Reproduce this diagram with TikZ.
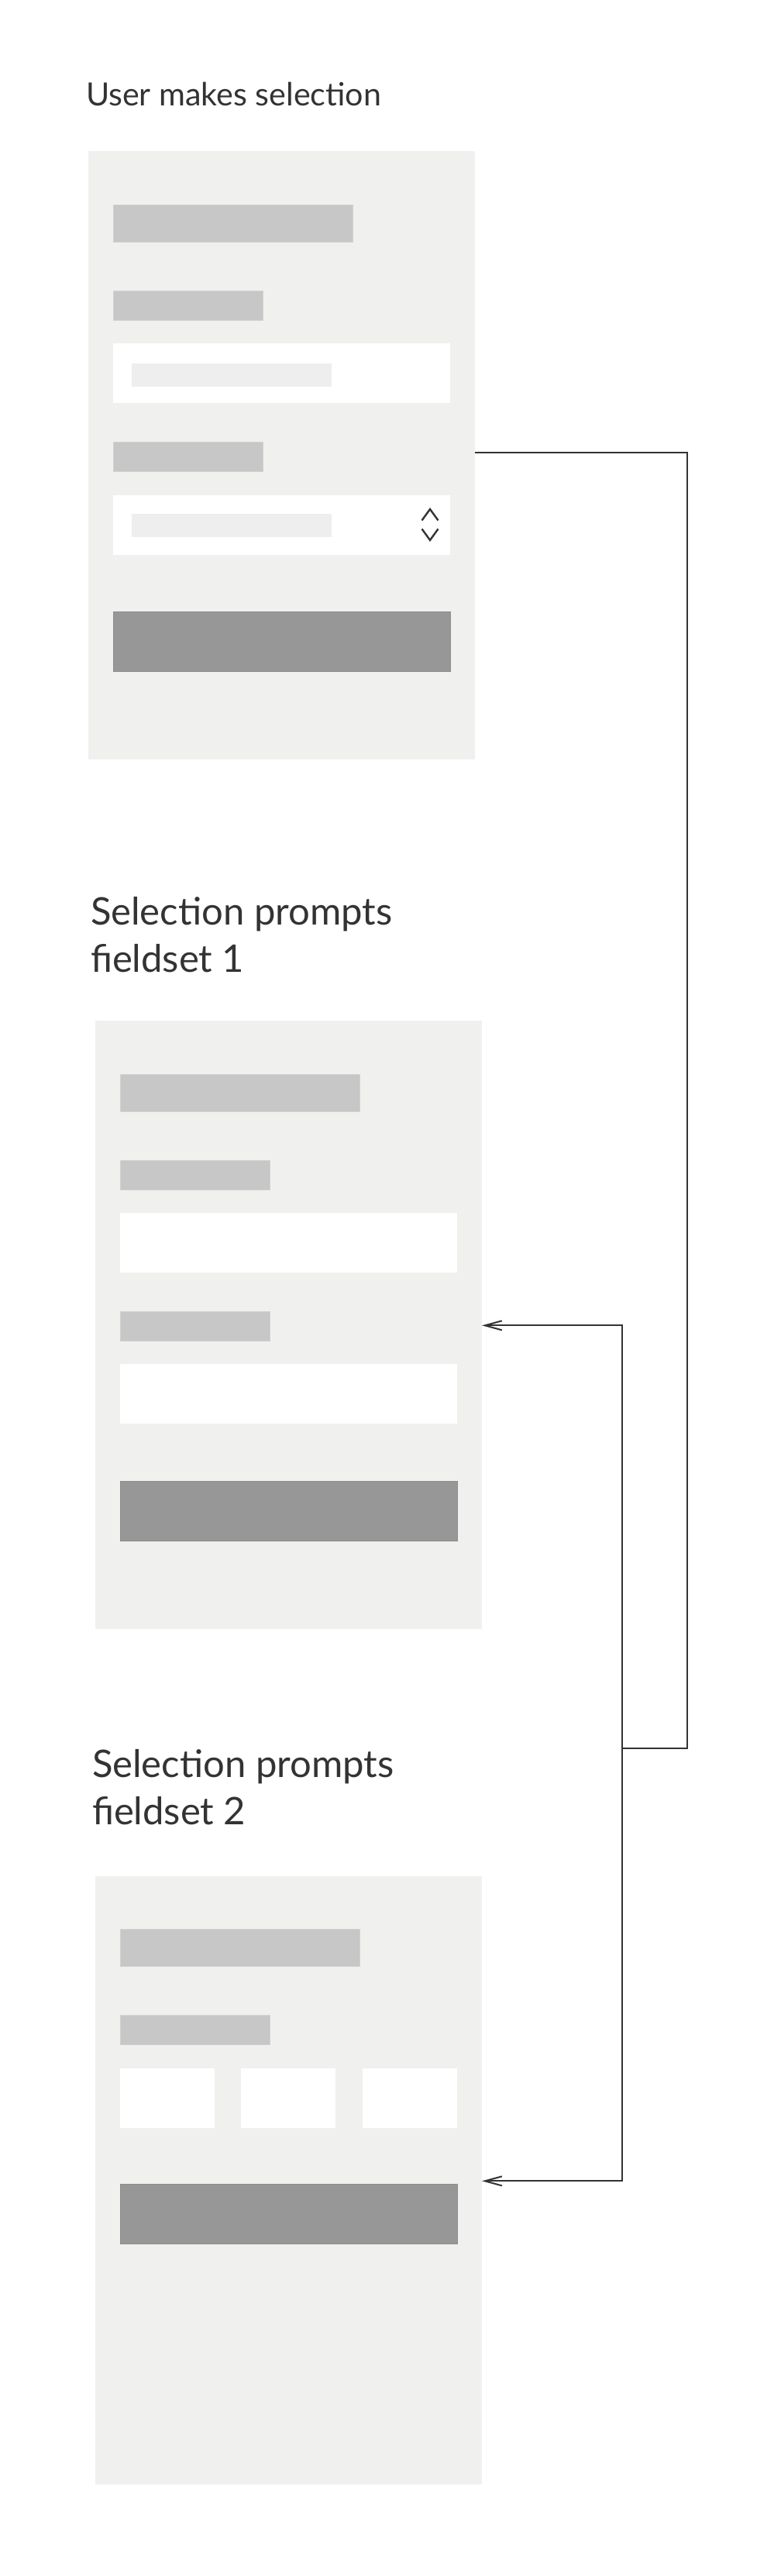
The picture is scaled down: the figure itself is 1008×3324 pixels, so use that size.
\documentclass[tikz,border=0pt]{standalone}
\usepackage{fontspec}
\setmainfont{Lato}
\usetikzlibrary{arrows.meta}
\definecolor{panelgray}{HTML}{F0F0EF}
\definecolor{bargray}{HTML}{C7C7C7}
\definecolor{barline}{HTML}{D2D2D2}
\definecolor{btngray}{HTML}{979797}
\definecolor{btnline}{HTML}{8E8E8E}
\definecolor{phgray}{HTML}{EEEEEE}
\definecolor{ink}{HTML}{333333}
\tikzset{
  box/.style={inner sep=0pt, outer sep=0pt, anchor=north west},
  panel/.style={box, fill=panelgray, minimum width=499pt, minimum height=785pt},
  bar/.style={box, fill=bargray, draw=barline, line width=0.8pt},
  titlebar/.style={bar, minimum width=309pt, minimum height=48pt},
  labelbar/.style={bar, minimum width=193pt, minimum height=38pt},
  inputbox/.style={box, fill=white, minimum width=435pt, minimum height=77pt},
  smallinput/.style={box, fill=white, minimum width=122pt, minimum height=77pt},
  placeholder/.style={box, fill=phgray, minimum width=258pt, minimum height=30pt},
  button/.style={box, fill=btngray, draw=btnline, line width=0.8pt, minimum width=435pt, minimum height=77pt},
  heading/.style={inner sep=0pt, outer sep=0pt, anchor=base west, text=ink, align=left},
  connector/.style={draw=ink, line width=2pt},
  arrowed/.style={connector, -{Straight Barb[length=22pt, width=12pt, line width=2pt]}},
  chevron/.style={draw=ink, line width=2.4pt}
}
\begin{document}
\begin{tikzpicture}[x=1pt, y=-1pt]
\useasboundingbox (0,0) rectangle (1008,3324);
\fill[white] (0,0) rectangle (1008,3324);

% ---------- headings (base anchor = baseline of the last line) ----------
\node[heading, font=\fontsize{41.2}{61}\selectfont] (h1) at (111,136) {User makes selection};
\node[heading, font=\fontsize{49}{61}\selectfont] (h2) at (117,1254.3) {Selection prompts\\fieldset 1};
\node[heading, font=\fontsize{49}{61}\selectfont] (h3) at (119,2354) {Selection prompts\\fieldset 2};

% ---------- panel 1 ----------
\node[panel] (p1) at (114,195) {};
\node[titlebar] (p1t) at (146,264) {};
\node[labelbar] (p1l1) at (146,375) {};
\node[inputbox] (p1i1) at (146,443) {};
\node[placeholder] (p1ph1) at (170,468.5) {};
\node[labelbar] (p1l2) at (146,570) {};
\node[inputbox] (p1s) at (146,638.5) {};
\node[placeholder] (p1ph2) at (170,663) {};
\node[button] (p1b) at (146,789) {};
\draw[chevron] (544.5,671.5) -- (555,657) -- (565.5,671.5);
\draw[chevron] (544.5,682.5) -- (555,697) -- (565.5,682.5);

% ---------- panel 2 ----------
\node[panel] (p2) at (123,1317) {};
\node[titlebar] (p2t) at (155,1386) {};
\node[labelbar] (p2l1) at (155,1497) {};
\node[inputbox] (p2i1) at (155,1565) {};
\node[labelbar] (p2l2) at (155,1692) {};
\node[inputbox] (p2i2) at (155,1760) {};
\node[button] (p2b) at (155,1911.5) {};

% ---------- panel 3 ----------
\node[panel] (p3) at (123,2421) {};
\node[titlebar] (p3t) at (155,2489.5) {};
\node[labelbar] (p3l1) at (155,2600.5) {};
\node[smallinput] (p3a) at (155,2669) {};
\node[smallinput] (p3b2) at (311,2669) {};
\node[smallinput] (p3c) at (467.5,2669) {};
\node[button] (p3b) at (155,2818) {};

% ---------- connectors ----------
\coordinate (out1) at (p1.east |- 0,583.7);
\coordinate (turn1) at (887,583.7);
\coordinate (turn2) at (887,2256);
\coordinate (junc) at (803,2256);
\coordinate (in2) at (p2.east |- 0,1710.3);
\coordinate (in3) at (p3.east |- 0,2814.3);

\draw[connector] (out1) -- (turn1) -- (turn2) -- (junc);
\draw[arrowed] (junc) |- (in2);
\draw[arrowed] (junc) |- (in3);
\end{tikzpicture}
\end{document}
